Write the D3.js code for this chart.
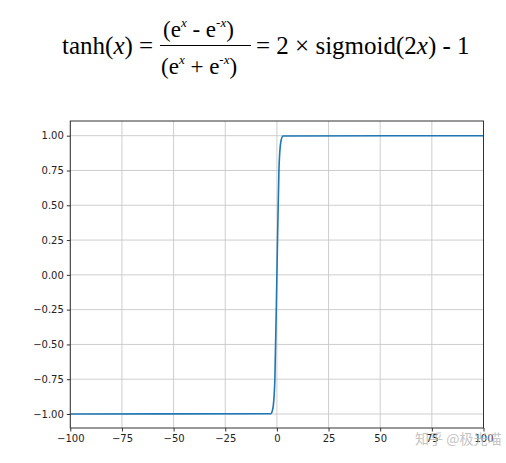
<!DOCTYPE html>
<html><head><meta charset="utf-8">
<script src="https://cdn.jsdelivr.net/npm/d3@7"></script>
<style>body{margin:0;background:#fff} .serif text{font-family:"Liberation Serif",serif}</style></head>
<body><svg id="c" width="506" height="463"></svg>
<script>
const xValues = [-100, -3, -2, -1, 0, 1, 2, 3, 100];
const yValues = [-1.0, -0.998, -0.964, -0.76, 0.0, 0.76, 0.964, 0.998, 1.0];
const xTicks = [-100, -75, -50, -25, 0, 25, 50, 75, 100];
const yTicks = [-1.00, -0.75, -0.50, -0.25, 0.00, 0.25, 0.50, 0.75, 1.00];

const svg = d3.select("#c");
const L = 70.3, R = 483.5, T = 121, B = 428;
const x = d3.scaleLinear().domain([-100, 100]).range([L, R]);
const y = d3.scaleLinear().domain([-1, 1]).range([414, 135.7]);

// formula
const f = svg.append("g").attr("class","serif").attr("fill","#000");
f.append("text").attr("x",62).attr("y",54).attr("font-size",25).html('tanh(<tspan font-style="italic">x</tspan>) =');
f.append("text").attr("x",163).attr("y",37).attr("font-size",23).html('(e<tspan font-size="13" font-style="italic" dy="-10">x</tspan><tspan dy="10"> - e</tspan><tspan font-size="13" dy="-10">-</tspan><tspan font-size="13" font-style="italic">x</tspan><tspan dy="10">)</tspan>');
f.append("line").attr("x1",160).attr("x2",251).attr("y1",45.5).attr("y2",45.5).attr("stroke","#000").attr("stroke-width",1.2);
f.append("text").attr("x",161).attr("y",74).attr("font-size",23).html('(e<tspan font-size="13" font-style="italic" dy="-10">x</tspan><tspan dy="10"> + e</tspan><tspan font-size="13" dy="-10">-</tspan><tspan font-size="13" font-style="italic">x</tspan><tspan dy="10">)</tspan>');
f.append("text").attr("x",256).attr("y",54).attr("font-size",25).html('= 2 × sigmoid(2<tspan font-style="italic">x</tspan>) - 1');

// grid
const g = svg.append("g");
g.selectAll(".gx").data(xTicks).join("line").attr("x1",d=>x(d)).attr("x2",d=>x(d)).attr("y1",T).attr("y2",B).attr("stroke","#c8c8c8").attr("stroke-width",0.9);
g.selectAll(".gy").data(yTicks).join("line").attr("y1",d=>y(d)).attr("y2",d=>y(d)).attr("x1",L).attr("x2",R).attr("stroke","#c8c8c8").attr("stroke-width",0.9);

// line
svg.append("path").datum(xValues.map((v,i)=>[v,yValues[i]]))
  .attr("d", d3.line().x(d=>x(d[0])).y(d=>y(d[1])).curve(d3.curveMonotoneX))
  .attr("fill","none").attr("stroke","#1f77b4").attr("stroke-width",1.6);

// frame
svg.append("rect").attr("x",L).attr("y",T).attr("width",R-L).attr("height",B-T).attr("fill","none").attr("stroke","#333").attr("stroke-width",1);

const fmt = d => d < 0 ? "\u2212" + Math.abs(d).toFixed(2) : d.toFixed(2);
const ax = svg.append("g").attr("transform",`translate(0,${B})`).call(d3.axisBottom(x).tickValues(xTicks).tickSize(3.5).tickFormat(d=>d<0?"\u2212"+Math.abs(d):d));
const ay = svg.append("g").attr("transform",`translate(${L},0)`).call(d3.axisLeft(y).tickValues(yTicks).tickSize(3.5).tickFormat(fmt));
[ax,ay].forEach(a=>{a.select(".domain").remove();a.selectAll("text").attr("font-family","DejaVu Sans").attr("font-size",10).attr("fill","#222");a.selectAll("line").attr("stroke","#333");});

// watermark
svg.append("text").attr("x",415).attr("y",444).attr("font-family","Noto Sans CJK SC").attr("font-size",14).attr("fill","#bbb").attr("opacity",0.85).text("知乎 @极光喵");
</script></body></html>
